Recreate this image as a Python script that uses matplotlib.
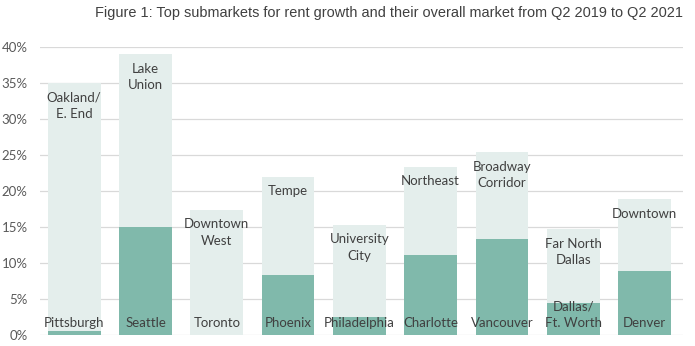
import matplotlib
matplotlib.use("Agg")
import matplotlib.pyplot as plt

# market (city) names, submarket names and rent growth in %
markets = ["Pittsburgh", "Seattle", "Toronto", "Phoenix", "Philadelphia",
           "Charlotte", "Vancouver", "Dallas/\nFt. Worth", "Denver"]
submarkets = ["Oakland/\nE. End", "Lake\nUnion", "Downtown\nWest", "Tempe",
              "University\nCity", "Northeast", "Broadway\nCorridor",
              "Far North\nDallas", "Downtown"]
submarket_growth = [35.0, 39.0, 17.4, 22.0, 15.3, 23.4, 25.4, 14.7, 18.9]
market_growth = [0.5, 15.0, 0.0, 8.3, 2.5, 11.1, 13.3, 4.5, 8.9]
yticks = [0, 5, 10, 15, 20, 25, 30, 35, 40]

light = "#e4eeec"
dark = "#80b9ab"
txt = "#404040"

fig = plt.figure(figsize=(6.95, 3.46), dpi=100)
ax = fig.add_axes([0.0576, 0.032, 0.925, 0.832])

x = list(range(len(markets)))
ax.bar(x, submarket_growth, width=0.74, color=light, zorder=2)
ax.bar(x, market_growth, width=0.74, color=dark, zorder=3)

for i in x:
    ax.text(i, submarket_growth[i] - 1.2, submarkets[i], ha="center", va="top",
            fontsize=9.5, color=txt, family="Lato", linespacing=1.45, zorder=4)
    ax.text(i, 0.8, markets[i], ha="center", va="bottom",
            fontsize=9.5, color=txt, family="Lato", linespacing=1.45, zorder=4)

ax.set_ylim(0, 40)
ax.set_xlim(-0.48, 8.54)
ax.set_yticks(yticks)
ax.set_yticklabels([f"{t}%" for t in yticks], family="Lato", fontsize=9.5, color="#595959")
ax.set_xticks([])
ax.tick_params(axis="y", length=0, pad=9)
ax.grid(axis="y", color="#d9d9d9", linewidth=0.9, zorder=1)
for s in ax.spines.values():
    s.set_visible(False)

fig.text(0.983, 0.962, "Figure 1: Top submarkets for rent growth and their overall market from Q2 2019 to Q2 2021",
         ha="right", va="center", fontsize=10.45, color=txt, family="Liberation Sans")

fig.savefig("out.png", dpi=100)
